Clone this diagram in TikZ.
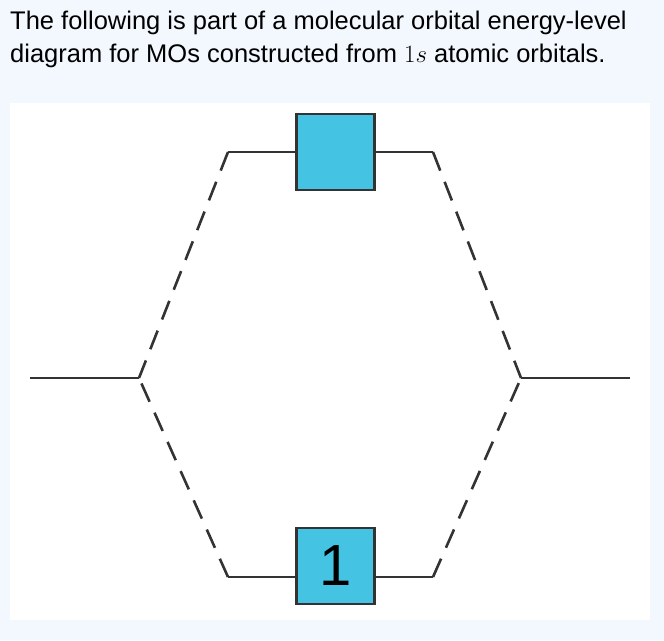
\documentclass[tikz,border=0pt]{standalone}
\usepackage{fontspec}
\setmainfont{Liberation Sans}
\definecolor{bg}{HTML}{F3F8FE}
\definecolor{boxc}{HTML}{45C3E3}
\definecolor{ln}{HTML}{333333}
\begin{document}
\begin{tikzpicture}[x=1pt,y=-1pt,
  lvl/.style={draw=ln,line width=2.6pt},
  dsh/.style={draw=ln,line width=2.6pt,dash pattern=on 20pt off 12pt},
  orb/.style={draw=ln,line width=2.8pt,fill=boxc,minimum width=78pt,minimum height=76pt,inner sep=0pt,font=\fontsize{58}{58}\selectfont}]
\fill[bg] (0,0) rectangle (664,640);
\useasboundingbox (0,0) rectangle (664,640);
\fill[white] (10,103) rectangle (650,620);
\node[anchor=north west,align=left,inner sep=0pt,font=\fontsize{25.5}{33}\selectfont] (title) at (10,11)
 {The following is part of a molecular orbital energy-level\\diagram for MOs constructed from $\mathbf{}1s$ atomic orbitals.};
\node[orb] (top) at (335.5,152) {};
\node[orb] (bot) at (335.5,566) {\raisebox{-4pt}{1}};
\coordinate (tl) at (228,152); \coordinate (tr) at (433,152);
\coordinate (bl) at (228,577); \coordinate (br) at (433,577);
\coordinate (l) at (139,378); \coordinate (r) at (521,378);
\coordinate (l0) at (30,378); \coordinate (r0) at (630,378);
\draw[lvl] (l0) -- (l);
\draw[lvl] (r) -- (r0);
\draw[lvl] (tl) -- (top.west);
\draw[lvl] (top.east) -- (tr);
\draw[lvl] (bl) -- (bot.west |- bl);
\draw[lvl] (bot.east |- br) -- (br);
\draw[dsh] (tl) -- (l);
\draw[dsh] (tr) -- (r);
\draw[dsh] (bl) -- (l);
\draw[dsh] (br) -- (r);
\end{tikzpicture}
\end{document}
